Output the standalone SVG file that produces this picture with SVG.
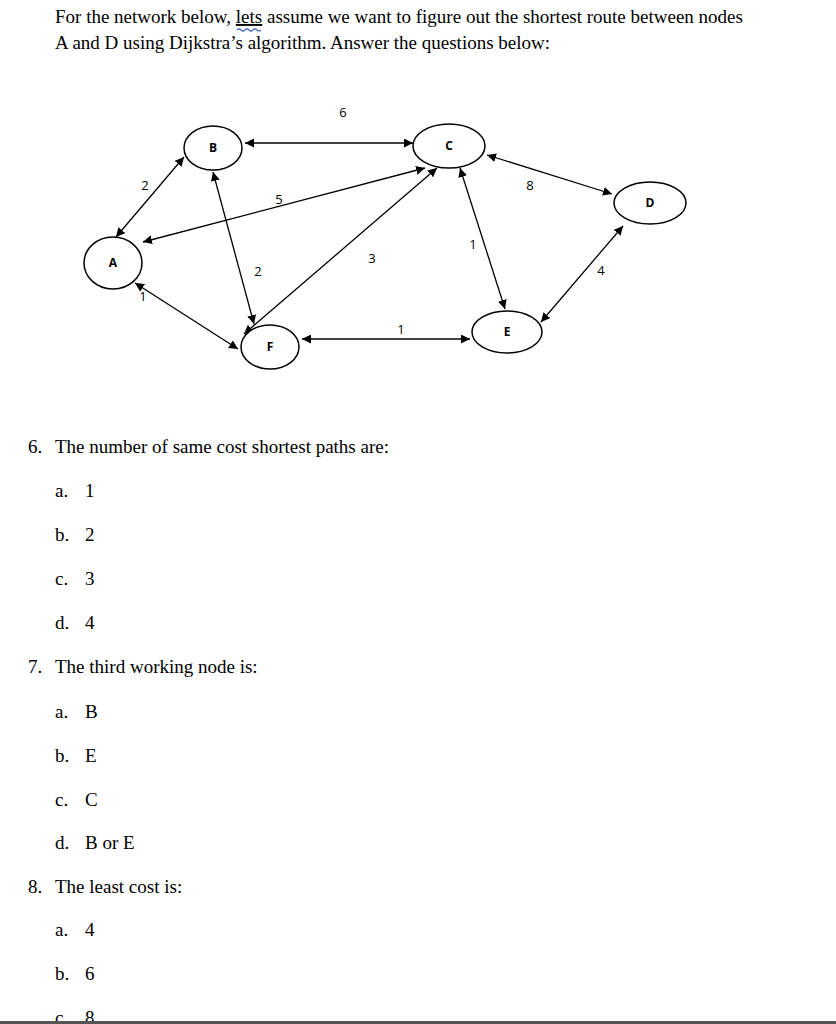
<svg xmlns="http://www.w3.org/2000/svg" width="836" height="1024" viewBox="0 0 836 1024">
<style>
.t{font-family:"Liberation Serif",serif;font-size:19px;fill:#000}
.n{font-family:"Open Sans","DejaVu Sans",sans-serif;font-size:12px;font-weight:bold;text-anchor:middle;fill:#000}
.l{font-family:"Open Sans","DejaVu Sans",sans-serif;font-size:13px;text-anchor:middle;fill:#000}
ellipse{fill:#fff;stroke:#000;stroke-width:1.5}
.e line{stroke:#000;stroke-width:1.3;marker-start:url(#ah);marker-end:url(#ah)}
</style>
<defs><marker id="ah" viewBox="0 0 10 10" refX="10" refY="5" markerWidth="9" markerHeight="9" markerUnits="userSpaceOnUse" orient="auto-start-reverse"><path d="M0,0L10,5L0,10z" fill="#000"/></marker></defs>
<rect width="836" height="1024" fill="#fff"/>
<text class="t" x="55" y="23">For the network below, <tspan text-decoration="underline">lets</tspan> assume we want to figure out the shortest route between nodes</text>
<path d="M237,30 q2,-2 4,0 t4,0 t4,0 t4,0 t4,0 t4,0" fill="none" stroke="#4a6fd0" stroke-width="1.2"/>
<text class="t" x="55" y="49">A and D using Dijkstra’s algorithm. Answer the questions below:</text>
<g class="e" id="connectors">
<line x1="245" y1="143" x2="413" y2="143"/>
<line x1="425" y1="168" x2="143" y2="242"/>
<line x1="437" y1="168" x2="244" y2="334"/>
<line x1="213" y1="172" x2="254" y2="324"/>
<line x1="116" y1="237" x2="184" y2="157"/>
<line x1="135" y1="283" x2="238" y2="349"/>
<line x1="302" y1="339" x2="470" y2="339"/>
<line x1="460" y1="168" x2="505" y2="309"/>
<line x1="487" y1="155" x2="612" y2="194"/>
<line x1="623" y1="226" x2="541" y2="322"/>
</g>
<g id="labels">
<text class="l" x="343" y="117">6</text><text class="l" x="145" y="190">2</text><text class="l" x="279" y="204">5</text>
<text class="l" x="258" y="276">2</text><text class="l" x="372" y="263">3</text><text class="l" x="143" y="301">1</text>
<text class="l" x="401" y="334">1</text><text class="l" x="473" y="249">1</text><text class="l" x="530" y="190">8</text><text class="l" x="601" y="275">4</text>
</g>
<g id="node-B"><ellipse cx="213" cy="148" rx="29" ry="22"/><text class="n" x="213" y="152">B</text></g>
<g id="node-A"><ellipse cx="113" cy="263" rx="29" ry="26"/><text class="n" x="113" y="267">A</text></g>
<g id="node-F"><ellipse cx="270" cy="347" rx="29" ry="22"/><text class="n" x="270" y="351">F</text></g>
<g id="node-C"><ellipse cx="449" cy="146" rx="36" ry="22"/><text class="n" x="449" y="150">C</text></g>
<g id="node-D"><ellipse cx="650" cy="203" rx="36" ry="21"/><text class="n" x="650" y="207">D</text></g>
<g id="node-E"><ellipse cx="507" cy="332" rx="35" ry="21"/><text class="n" x="507" y="336">E</text></g>
<text class="t" x="28" y="453">6.</text><text class="t" x="55" y="453">The number of same cost shortest paths are:</text>
<text class="t" x="55" y="497">a.</text><text class="t" x="85" y="497">1</text>
<text class="t" x="55" y="541">b.</text><text class="t" x="85" y="541">2</text>
<text class="t" x="55" y="585">c.</text><text class="t" x="85" y="585">3</text>
<text class="t" x="55" y="629">d.</text><text class="t" x="85" y="629">4</text>
<text class="t" x="28" y="673">7.</text><text class="t" x="55" y="673">The third working node is:</text>
<text class="t" x="55" y="718">a.</text><text class="t" x="85" y="718">B</text>
<text class="t" x="55" y="762">b.</text><text class="t" x="85" y="762">E</text>
<text class="t" x="55" y="806">c.</text><text class="t" x="85" y="806">C</text>
<text class="t" x="55" y="849">d.</text><text class="t" x="85" y="849">B or E</text>
<text class="t" x="28" y="893">8.</text><text class="t" x="55" y="893">The least cost is:</text>
<text class="t" x="55" y="936">a.</text><text class="t" x="85" y="936">4</text>
<text class="t" x="55" y="980">b.</text><text class="t" x="85" y="980">6</text>
<text class="t" x="55" y="1024">c.</text><text class="t" x="85" y="1024">8</text>
<rect x="0" y="1021" width="836" height="3" fill="#555"/>
</svg>
